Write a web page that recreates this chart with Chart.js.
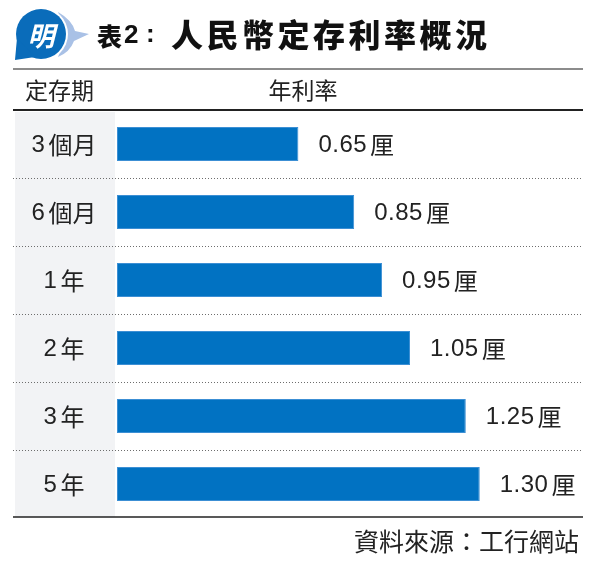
<!DOCTYPE html>
<html>
<head>
<meta charset="utf-8">
<script src="https://cdn.jsdelivr.net/npm/chart.js@4.4.1/dist/chart.umd.min.js"></script>
<style>
  html, body { margin: 0; padding: 0; background: #fff; }
  canvas { display: block; }
</style>
</head>
<body>
<canvas id="rateChart" width="600" height="566"></canvas>
<script>
const terms = ['3個月', '6個月', '1年', '2年', '3年', '5年'];
const rates = [0.65, 0.85, 0.95, 1.05, 1.25, 1.30];
const unit = '厘';
const title = '人民幣定存利率概況';
const headers = ['定存期', '年利率'];
const source = '資料來源：工行網站';

const LATIN = "'Liberation Sans', sans-serif";
const CJK = "'Noto Sans CJK TC', sans-serif";

// number part in Latin font, Chinese part in CJK font, small gap between
function drawMixed(ctx, text, x, y, align) {
    const m = text.match(/^([0-9.]+)(.*)$/);
    const num = m[1], rest = m[2];
    ctx.font = '24px ' + LATIN;
    ctx.letterSpacing = '0.5px';
    const w1 = ctx.measureText(num).width;
    ctx.font = '24px ' + CJK;
    ctx.letterSpacing = '0px';
    const w2 = ctx.measureText(rest).width;
    const gap = 3;
    let start = x;
    if (align === 'center') start = x - (w1 + gap + w2) / 2;
    ctx.textAlign = 'left';
    ctx.font = '24px ' + LATIN;
    ctx.letterSpacing = '0.5px';
    ctx.fillText(num, start, y);
    ctx.font = '24px ' + CJK;
    ctx.letterSpacing = '0px';
    ctx.fillText(rest, start + w1 + gap, y);
}

// header, logo, table rules, row labels, value labels
const tableDecor = {
    id: 'tableDecor',
    beforeDatasetsDraw(chart) {
        const ctx = chart.ctx;
        const y = chart.scales.y;
        const area = chart.chartArea;
        ctx.save();

        // grey label column
        ctx.fillStyle = '#f2f3f5';
        ctx.fillRect(15, area.top + 2, 100, area.bottom - area.top - 3);

        // dotted separators between rows
        ctx.strokeStyle = '#6d6d6d';
        ctx.lineWidth = 1;
        ctx.setLineDash([1, 2]);
        for (let i = 1; i < terms.length; i++) {
            const yy = Math.round((y.getPixelForValue(i - 1) + y.getPixelForValue(i)) / 2) + 0.5;
            ctx.beginPath();
            ctx.moveTo(13, yy);
            ctx.lineTo(583, yy);
            ctx.stroke();
        }
        ctx.setLineDash([]);
        ctx.restore();
    },
    afterDatasetsDraw(chart) {
        const ctx = chart.ctx;
        const y = chart.scales.y;
        const area = chart.chartArea;
        const meta = chart.getDatasetMeta(0);
        ctx.save();

        // logo: light chevron behind, blue bubble in front
        ctx.fillStyle = '#a9c1e6';
        ctx.beginPath();
        ctx.moveTo(58, 12);
        ctx.quadraticCurveTo(72, 20, 75, 31);
        ctx.lineTo(89, 34);
        ctx.lineTo(74, 41);
        ctx.quadraticCurveTo(70, 52, 58, 57);
        ctx.quadraticCurveTo(68, 35, 58, 12);
        ctx.fill();
        ctx.fillStyle = '#fff';
        ctx.beginPath();
        ctx.arc(41, 34, 27, 0, Math.PI * 2);
        ctx.fill();
        ctx.fillStyle = '#0a6cba';
        ctx.beginPath();
        ctx.arc(41, 34, 25, 0, Math.PI * 2);
        ctx.fill();
        ctx.beginPath();
        ctx.moveTo(17, 38);
        ctx.lineTo(15, 60);
        ctx.lineTo(35, 57);
        ctx.fill();
        ctx.fillStyle = '#fff';
        ctx.font = "italic bold 27px " + CJK;
        ctx.textAlign = 'center';
        ctx.textBaseline = 'middle';
        ctx.fillText('明', 41, 36);

        // title
        ctx.fillStyle = '#111';
        ctx.textAlign = 'left';
        ctx.font = "900 25px " + CJK;
        ctx.fillText('表', 97, 36);
        ctx.font = "bold 26px " + LATIN;
        ctx.fillText('2', 124, 36);
        ctx.fillText(':', 146, 35);
        ctx.font = "900 32px " + CJK;
        ctx.letterSpacing = '3.5px';
        ctx.fillText(title, 171, 35);
        ctx.letterSpacing = '0px';

        // rules
        ctx.strokeStyle = '#666';
        ctx.lineWidth = 1.5;
        ctx.beginPath();
        ctx.moveTo(13, 69);
        ctx.lineTo(583, 69);
        ctx.stroke();
        ctx.strokeStyle = '#222';
        ctx.lineWidth = 2;
        ctx.beginPath();
        ctx.moveTo(13, area.top);
        ctx.lineTo(583, area.top);
        ctx.stroke();
        ctx.lineWidth = 1.5;
        ctx.beginPath();
        ctx.moveTo(13, area.bottom - 1);
        ctx.lineTo(583, area.bottom - 1);
        ctx.stroke();

        // column headers
        ctx.fillStyle = '#222';
        ctx.font = "23px " + CJK;
        ctx.textBaseline = 'middle';
        ctx.textAlign = 'left';
        ctx.fillText(headers[0], 25, 90);
        ctx.textAlign = 'center';
        ctx.fillText(headers[1], 303, 90);

        // row labels and values
        terms.forEach((t, i) => {
            const yy = y.getPixelForValue(i) + 1;
            drawMixed(ctx, t, 64, yy, 'center');
            drawMixed(ctx, rates[i].toFixed(2) + unit, meta.data[i].x + 20, yy, 'left');
        });

        // source
        ctx.textAlign = 'right';
        ctx.font = "25px " + CJK;
        ctx.fillText(source, 579, 541);
        ctx.restore();
    }
};

new Chart(document.getElementById('rateChart'), {
    type: 'bar',
    data: {
        labels: terms,
        datasets: [{
            data: rates,
            backgroundColor: '#0172c2',
            borderColor: '#3c8fd4',
            borderWidth: 1,
            borderSkipped: false,
            categoryPercentage: 1,
            barPercentage: 0.5
        }]
    },
    options: {
        indexAxis: 'y',
        responsive: false,
        animation: false,
        devicePixelRatio: 1,
        layout: { padding: { left: 117, right: 17, top: 110, bottom: 48 } },
        plugins: { legend: { display: false }, tooltip: { enabled: false } },
        scales: {
            x: { display: false, min: 0, max: 1.67 },
            y: { display: false }
        }
    },
    plugins: [tableDecor]
});
</script>
</body>
</html>
